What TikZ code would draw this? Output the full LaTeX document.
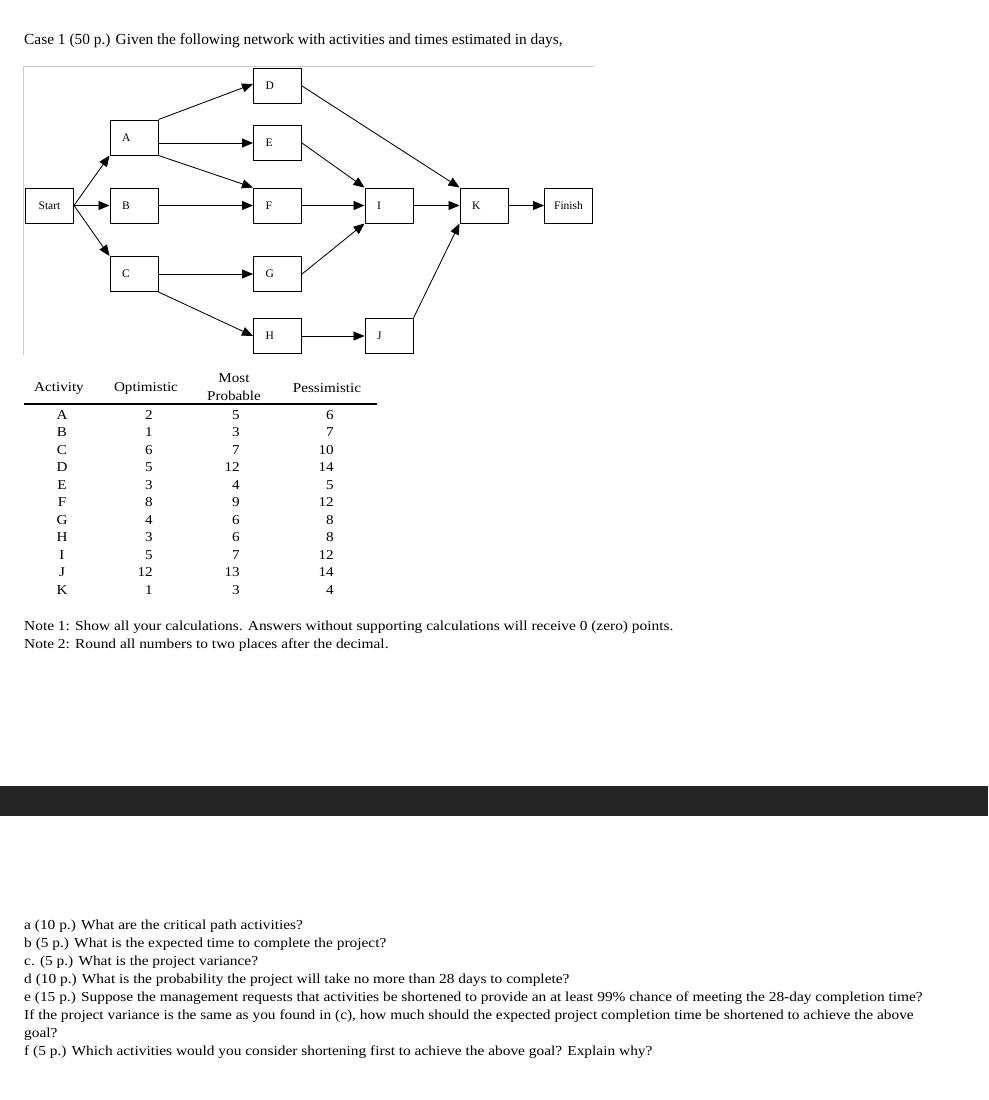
\documentclass[tikz,border=0pt]{standalone}
\usepackage{fontspec}
\setmainfont{Liberation Serif}
\newfontfamily\charterish[FakeStretch=1.12]{Liberation Serif}
\usetikzlibrary{arrows.meta}
\begin{document}
\begin{tikzpicture}[x=1pt,y=-1pt,
  box/.style={draw, line width=1pt, minimum width=48pt, minimum height=35pt, inner sep=0pt, font=\fontsize{11.5}{13}\selectfont},
  lbox/.style={box, text width=24pt, align=left},
  arr/.style={line width=0.85pt, -{Triangle[length=11pt,width=9pt]}},
  hdr/.style={font=\charterish\fontsize{13.5}{16}\selectfont},
  cell/.style={font=\charterish\fontsize{13.5}{16}\selectfont, inner sep=0pt},
  txt/.style={anchor=west, inner sep=0pt, font=\charterish\fontsize{13.75}{16}\selectfont},
  ttl/.style={anchor=west, inner sep=0pt, font=\fontsize{15.4}{18}\selectfont}]
\useasboundingbox (0,0) rectangle (988,1100);
\fill[white] (0,0) rectangle (988,1100);

% title
\node[ttl] (title) at (24,41) {Case 1 (50 p.) Given the following network with activities and times estimated in days,};

% frame of network image
\draw[black!20, line width=1.2pt] (23.5,355) -- (23.5,66.5) -- (594,66.5);

% network nodes
\node[box] (Start) at (49.5,205.5) {Start};
\node[lbox] (A) at (134,137.5) {A};
\node[lbox] (B) at (134,205.5) {B};
\node[lbox] (C) at (134,274) {C};
\node[lbox] (D) at (277.5,86) {D};
\node[lbox] (E) at (277.5,143) {E};
\node[lbox] (F) at (277.5,205.5) {F};
\node[lbox] (G) at (277.5,274) {G};
\node[lbox] (H) at (277.5,336) {H};
\node[lbox] (I) at (389,205.5) {I};
\node[lbox] (J) at (389,336) {J};
\node[lbox] (K) at (484,205.5) {K};
\node[box] (Fin) at (568.5,205.5) {Finish};

% connectors
\draw[arr] (Start.east) -- (A.south west);
\draw[arr] (Start.east) -- (B.west);
\draw[arr] (Start.east) -- (C.north west);
\draw[arr] (A.north east) -- ([yshift=2pt]D.west);
\draw[arr] (A.east |- E.west) -- (E.west);
\draw[arr] (A.south east) -- (F.north west);
\draw[arr] (B.east) -- (F.west);
\draw[arr] (C.east |- G.west) -- (G.west);
\draw[arr] (C.south east) -- (H.west);
\draw[arr] (D.east) -- (K.north west);
\draw[arr] (E.east) -- (I.north west);
\draw[arr] (F.east) -- (I.west);
\draw[arr] (G.east) -- (I.south west);
\draw[arr] (H.east) -- (J.west);
\draw[arr] (I.east) -- (K.west);
\draw[arr] (J.north east) -- (K.south west);
\draw[arr] (K.east) -- (Fin.west);

% table header
\node[hdr] (h1) at (59,388) {Activity};
\node[hdr] (h2) at (146,388) {Optimistic};
\node[hdr] (h3a) at (234,378) {Most};
\node[hdr] (h3b) at (234,396) {Probable};
\node[hdr] (h4) at (327,388) {Pessimistic};
\draw[line width=2pt] (24,403.5) -- (377,403.5);

% table rows
\foreach \a/\o/\m/\p [count=\i from 0] in {A/2/5/6,B/1/3/7,C/6/7/10,D/5/12/14,E/3/4/5,F/8/9/12,G/4/6/8,H/3/6/8,I/5/7/12,J/12/13/14,K/1/3/4}{
  \node[cell] (act\i) at (62,415+17.5*\i) {\a};
  \node[cell, anchor=east] (opt\i) at (153,415+17.5*\i) {\o};
  \node[cell, anchor=east] (mp\i) at (240,415+17.5*\i) {\m};
  \node[cell, anchor=east] (pes\i) at (334,415+17.5*\i) {\p};
}

% notes
\node[txt] (n1) at (24,627) {Note 1: Show all your calculations. Answers without supporting calculations will receive 0 (zero) points.};
\node[txt] (n2) at (24,645) {Note 2: Round all numbers to two places after the decimal.};

% dark band
\fill[black!85.5] (0,786) rectangle (988,816);

% questions
\node[txt] (qa) at (24,926) {a (10 p.) What are the critical path activities?};
\node[txt] (qb) at (24,944) {b (5 p.) What is the expected time to complete the project?};
\node[txt] (qc) at (24,962) {c. (5 p.) What is the project variance?};
\node[txt] (qd) at (24,980) {d (10 p.) What is the probability the project will take no more than 28 days to complete?};
\node[txt] (qe) at (24,998) {e (15 p.) Suppose the management requests that activities be shortened to provide an at least 99\% chance of meeting the 28-day completion time?};
\node[txt] (qe2) at (24,1016) {If the project variance is the same as you found in (c), how much should the expected project completion time be shortened to achieve the above};
\node[txt] (qe3) at (24,1034) {goal?};
\node[txt] (qf) at (24,1052) {f (5 p.) Which activities would you consider shortening first to achieve the above goal? Explain why?};
\end{tikzpicture}
\end{document}
